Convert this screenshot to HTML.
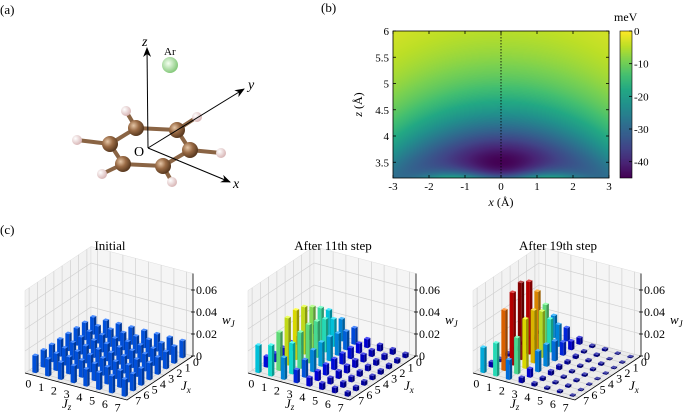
<!DOCTYPE html>
<html><head><meta charset="utf-8"><style>
html,body{margin:0;padding:0;background:#fff;}
body{width:685px;height:413px;position:relative;overflow:hidden;font-family:"Liberation Serif",serif;}
svg{position:absolute;left:0;top:0;}
svg text{font-family:"Liberation Serif",serif;}
canvas{position:absolute;}
</style></head><body>
<svg id="main" width="685" height="413">
 <g>
  <text x="0" y="14" font-size="13">(a)</text>
  <defs>
   <radialGradient id="gc" cx="35%" cy="35%" r="65%"><stop offset="0" stop-color="#e6c7a8"/><stop offset="0.5" stop-color="#9a6b45"/><stop offset="1" stop-color="#5a3a20"/></radialGradient>
   <radialGradient id="gh" cx="35%" cy="35%" r="65%"><stop offset="0" stop-color="#ffffff"/><stop offset="1" stop-color="#d9b8b8"/></radialGradient>
   <radialGradient id="ga" cx="40%" cy="40%" r="60%"><stop offset="0" stop-color="#f4fff0"/><stop offset="1" stop-color="#86c97c"/></radialGradient>
   <marker id="arr" markerWidth="10" markerHeight="8" refX="9" refY="4" orient="auto"><path d="M0,0 L10,4 L0,8 L3,4 z" fill="#000"/></marker>
  </defs>
  <g stroke="#8a6444" stroke-width="4">
   <line x1="136" y1="128" x2="177" y2="130"/><line x1="177" y1="130" x2="190" y2="150"/>
   <line x1="190" y1="150" x2="163" y2="166"/><line x1="163" y1="166" x2="123" y2="164"/>
   <line x1="123" y1="164" x2="110" y2="144"/><line x1="110" y1="144" x2="136" y2="128"/>
   <line x1="136" y1="128" x2="126" y2="111"/><line x1="177" y1="130" x2="197" y2="117"/>
   <line x1="190" y1="150" x2="221" y2="153"/><line x1="163" y1="166" x2="172" y2="182"/>
   <line x1="123" y1="164" x2="102" y2="174"/><line x1="110" y1="144" x2="77" y2="140"/>
  </g>
  <g fill="url(#gh)">
   <circle cx="126" cy="111" r="5"/><circle cx="197" cy="117" r="5"/><circle cx="221" cy="153" r="5"/>
   <circle cx="172" cy="182" r="5"/><circle cx="102" cy="174" r="5"/><circle cx="77" cy="140" r="5"/>
  </g>
  <g fill="url(#gc)">
   <circle cx="136" cy="128" r="8"/><circle cx="177" cy="130" r="8"/><circle cx="190" cy="150" r="8"/>
   <circle cx="163" cy="166" r="8"/><circle cx="123" cy="164" r="8"/><circle cx="110" cy="144" r="8"/>
  </g>
  <circle cx="170" cy="65" r="8" fill="url(#ga)"/>
  <text x="164" y="55" font-size="11">Ar</text>
  <g stroke="#000" stroke-width="1">
   <line x1="148" y1="148" x2="147" y2="48" marker-end="url(#arr)"/>
   <line x1="148" y1="148" x2="244" y2="89" marker-end="url(#arr)"/>
   <line x1="148" y1="148" x2="230" y2="182" marker-end="url(#arr)"/>
  </g>
  <text x="142" y="46" font-size="14" font-style="italic">z</text>
  <text x="248" y="89" font-size="14" font-style="italic">y</text>
  <text x="233" y="188" font-size="14" font-style="italic">x</text>
  <text x="134" y="156" font-size="14">O</text>
 </g>
 <g id="pb">
  <text x="321" y="12" font-size="13">(b)</text>
 </g>
 <g id="pc">
  <text x="0" y="234" font-size="13">(c)</text>
 </g>
</svg>
<canvas id="hm" width="216" height="147" style="left:393px;top:31px;width:216px;height:147px"></canvas>
<canvas id="cb" width="12" height="147" style="left:620px;top:31px;width:12px;height:147px"></canvas>
<svg id="over" width="685" height="413"></svg>
<script>
// ---------- panel (b) data ----------
const xTicks = [-3,-2,-1,0,1,2,3];
const zTicks = [3.5,4,4.5,5,5.5,6];
const cbTicks = [0,-10,-20,-30,-40];
const xRange = [-3,3];
const zRange = [3.2,6];
const eRange = [-45,0];
// ---------- panel (c) data ----------
const jzCats = [0,1,2,3,4,5,6,7];
const jxCats = [0,1,2,3,4,5,6,7];
const wTicks = [0,0.02,0.04,0.06];
const panelTitles = ["Initial","After 11th step","After 19th step"];
const wInitial = [
 [0.0156,0.0156,0.0156,0.0156,0.0156,0.0156,0.0156,0.0156],
 [0.0156,0.0156,0.0156,0.0156,0.0156,0.0156,0.0156,0.0156],
 [0.0156,0.0156,0.0156,0.0156,0.0156,0.0156,0.0156,0.0156],
 [0.0156,0.0156,0.0156,0.0156,0.0156,0.0156,0.0156,0.0156],
 [0.0156,0.0156,0.0156,0.0156,0.0156,0.0156,0.0156,0.0156],
 [0.0156,0.0156,0.0156,0.0156,0.0156,0.0156,0.0156,0.0156],
 [0.0156,0.0156,0.0156,0.0156,0.0156,0.0156,0.0156,0.0156],
 [0.0156,0.0156,0.0156,0.0156,0.0156,0.0156,0.0156,0.0156]];
const wStep11 = [
 [0.008,0.025,0.020,0.015,0.008,0.006,0.005,0.004],
 [0.008,0.032,0.025,0.017,0.009,0.006,0.005,0.004],
 [0.008,0.038,0.030,0.020,0.010,0.007,0.005,0.004],
 [0.008,0.043,0.033,0.022,0.010,0.007,0.005,0.004],
 [0.008,0.045,0.035,0.022,0.010,0.007,0.005,0.004],
 [0.008,0.043,0.033,0.020,0.010,0.007,0.005,0.004],
 [0.010,0.035,0.028,0.016,0.009,0.006,0.005,0.004],
 [0.025,0.028,0.020,0.012,0.008,0.006,0.005,0.004]];
const wStep19 = [
 [0.003,0.020,0.012,0.006,0.002,0.002,0.001,0.001],
 [0.003,0.035,0.020,0.008,0.002,0.002,0.001,0.001],
 [0.003,0.052,0.030,0.012,0.003,0.002,0.002,0.001],
 [0.003,0.066,0.042,0.018,0.003,0.002,0.002,0.001],
 [0.003,0.070,0.048,0.020,0.004,0.002,0.002,0.001],
 [0.003,0.066,0.045,0.019,0.004,0.002,0.002,0.001],
 [0.005,0.055,0.033,0.008,0.003,0.002,0.002,0.001],
 [0.023,0.030,0.018,0.005,0.003,0.002,0.002,0.001]];

const NS="http://www.w3.org/2000/svg";
function mk(parent,tag,attrs,text){const e=document.createElementNS(NS,tag);for(const k in attrs)e.setAttribute(k,attrs[k]);if(text!==undefined)e.textContent=text;parent.appendChild(e);return e;}

// ---------- viridis ----------
const vir=[[68,1,84],[72,36,117],[65,68,135],[53,95,141],[42,120,142],[33,145,140],[34,168,132],[68,191,112],[122,209,81],[189,223,38],[253,231,37]];
function viridis(t){t=Math.max(0,Math.min(1,t));const p=t*10,i=Math.min(9,Math.floor(p)),f=p-i;return vir[i].map((c,k)=>Math.round(c+(vir[i+1][k]-c)*f));}

// ---------- panel (b) ----------
const PX0=393,PX1=609,PY0=31,PY1=178;
const sx=x=>PX0+(x-xRange[0])/(xRange[1]-xRange[0])*(PX1-PX0);
const sz=z=>PY1-(z-zRange[0])/(zRange[1]-zRange[0])*(PY1-PY0);
const se=e=>PY1-(e-eRange[0])/(eRange[1]-eRange[0])*(PY1-PY0);
(function(){
 const atoms=[];
 for(let k=0;k<6;k++){const a=k*Math.PI/3;atoms.push([1.4*Math.cos(a),1.4*Math.sin(a),3.4,1.0]);atoms.push([2.48*Math.cos(a),2.48*Math.sin(a),2.9,0.6]);}
 function V(x,z){let s=0;for(const [ax,ay,sg,ep] of atoms){const r2=(x-ax)**2+ay*ay+z*z;const q=Math.pow(sg*sg/r2,3);s+=4*ep*(q*q-q);}return s;}
 const W=216,H=147;let mn=0;const vals=[];
 for(let j=0;j<H;j++){for(let i=0;i<W;i++){const x=xRange[0]+(i+0.5)/W*(xRange[1]-xRange[0]);const z=zRange[1]-(j+0.5)/H*(zRange[1]-zRange[0]);const v=V(x,z);vals.push(v);if(v<mn)mn=v;}}
 const ctx=document.getElementById('hm').getContext('2d');const img=ctx.createImageData(W,H);
 for(let n=0;n<vals.length;n++){const e=vals[n]/mn*(-45);const c=viridis((e-eRange[0])/(eRange[1]-eRange[0]));img.data[4*n]=c[0];img.data[4*n+1]=c[1];img.data[4*n+2]=c[2];img.data[4*n+3]=255;}
 ctx.putImageData(img,0,0);
 const cb=document.getElementById('cb').getContext('2d');
 for(let j=0;j<H;j++){const c=viridis(1-j/(H-1));cb.fillStyle=`rgb(${c})`;cb.fillRect(0,j,12,1);}
 const g=document.getElementById('over');
 mk(g,'rect',{x:PX0,y:PY0,width:PX1-PX0,height:PY1-PY0,fill:'none',stroke:'#000','stroke-width':0.8,});
 mk(g,'line',{x1:sx(0),y1:PY0,x2:sx(0),y2:PY1,stroke:'#000','stroke-width':0.8,'stroke-dasharray':'1.5,1.5',});
 xTicks.forEach(t=>{const X=sx(t);
  const l=mk(g,'line',{x1:X,y1:PY1,x2:X,y2:PY1-3,stroke:'#000','stroke-width':0.8});
  mk(g,'line',{x1:X,y1:PY0,x2:X,y2:PY0+3,stroke:'#000','stroke-width':0.8});
  const tx=mk(g,'text',{x:X,y:PY1+12,'font-size':11,'text-anchor':'middle'},String(t));});
 zTicks.forEach(t=>{const Y=sz(t);
  const l=mk(g,'line',{x1:PX0,y1:Y,x2:PX0+3,y2:Y,stroke:'#000','stroke-width':0.8});
  mk(g,'line',{x1:PX1,y1:Y,x2:PX1-3,y2:Y,stroke:'#000','stroke-width':0.8});
  const tx=mk(g,'text',{x:PX0-4,y:Y+4,'font-size':11,'text-anchor':'end'},String(t));});
 const xl=mk(g,'text',{x:(PX0+PX1)/2,y:PY1+28,'font-size':12,'text-anchor':'middle'});
 mk(xl,'tspan',{'font-style':'italic'},'x');mk(xl,'tspan',{},' (Å)');
 const zl=mk(g,'text',{x:0,y:0,'font-size':12,'text-anchor':'middle',transform:`translate(362,${(PY0+PY1)/2}) rotate(-90)`});
 mk(zl,'tspan',{'font-style':'italic'},'z');mk(zl,'tspan',{},' (Å)');
 mk(g,'rect',{x:620,y:PY0,width:12,height:PY1-PY0,fill:'none',stroke:'#000','stroke-width':0.6,});
 cbTicks.forEach(t=>{const Y=se(t);
  const l=mk(g,'line',{x1:629,y1:Y,x2:632,y2:Y,stroke:'#000','stroke-width':0.8});
  const tx=mk(g,'text',{x:634,y:Y+4,'font-size':11},String(t));});
 mk(g,'text',{x:614,y:21,'font-size':12,},'meV');
})();

// ---------- panel (c) ----------
const EZ=[12.75,3.375],EX=[-8.25,5.5],WS=1100,WMAX=0.075,VMAX=0.072;
const panelDX=[0,223,448];
const panelData=[wInitial,wStep11,wStep19];
function jet(t){t=Math.max(0,Math.min(1,t));const c=v=>Math.max(0,Math.min(1,1.5-Math.abs(v)));return [c(4*t-3),c(4*t-2),c(4*t-1)];}
function rgb(c,f){return `rgb(${c.map(v=>Math.round(Math.min(255,v*255*f))).join(',')})`;}
function rgbL(c,a){return `rgb(${c.map(v=>Math.round(255*(v+(1-v)*a))).join(',')})`;}
const pc=document.getElementById('pc');
panelData.forEach((data,p)=>{
 const dx=panelDX[p];
 const P=(jz,jx,w)=>[91+dx+(jz+0.5)*EZ[0]+(jx+0.5)*EX[0],329+(jz+0.5)*EZ[1]+(jx+0.5)*EX[1]-w*WS];
 const pts=a=>a.map(q=>q.join(',')).join(' ');
 const g=mk(pc,'g',{});
 const lo=-0.5,hi=7.5;
 mk(g,'polygon',{points:pts([P(lo,lo,0),P(hi,lo,0),P(hi,hi,0),P(lo,hi,0)]),fill:'#ebebeb',stroke:'#ccc','stroke-width':0.5,});
 mk(g,'polygon',{points:pts([P(lo,lo,0),P(lo,hi,0),P(lo,hi,WMAX),P(lo,lo,WMAX)]),fill:'#f2f2f2',stroke:'#ddd','stroke-width':0.5,});
 mk(g,'polygon',{points:pts([P(lo,lo,0),P(hi,lo,0),P(hi,lo,WMAX),P(lo,lo,WMAX)]),fill:'#f5f5f5',stroke:'#ddd','stroke-width':0.5,});
 const gs={stroke:'#d0d0d0','stroke-width':0.7};
 jzCats.forEach(c=>{const a=P(c,lo,0),b=P(c,hi,0),d=P(c,lo,WMAX);const l1=mk(g,'line',Object.assign({x1:a[0],y1:a[1],x2:b[0],y2:b[1]},gs));mk(g,'line',Object.assign({x1:a[0],y1:a[1],x2:d[0],y2:d[1]},gs));});
 jxCats.forEach(c=>{const a=P(lo,c,0),b=P(hi,c,0),d=P(lo,c,WMAX);const l1=mk(g,'line',Object.assign({x1:a[0],y1:a[1],x2:b[0],y2:b[1]},gs));mk(g,'line',Object.assign({x1:a[0],y1:a[1],x2:d[0],y2:d[1]},gs));});
 wTicks.forEach(w=>{const a=P(lo,hi,w),b=P(lo,lo,w),c=P(hi,lo,w);const l=mk(g,'polyline',Object.assign({points:pts([a,b,c]),fill:'none'},gs));});
 // bars
 const h=0.15;const order=[];
 jxCats.forEach((jx,r)=>jzCats.forEach((jz,c)=>order.push([jz,jx,data[r][c]])));
 order.sort((a,b)=>(a[0]+a[1])-(b[0]+b[1]));
 order.forEach(([jz,jx,w])=>{
  const col=jet(w/VMAX);
  const bg=mk(g,'g',{});
  mk(bg,'polygon',{points:pts([P(jz-h,jx+h,0),P(jz+h,jx+h,0),P(jz+h,jx+h,w),P(jz-h,jx+h,w)]),fill:rgb(col,0.85)});
  mk(bg,'polygon',{points:pts([P(jz+h,jx-h,0),P(jz+h,jx+h,0),P(jz+h,jx+h,w),P(jz+h,jx-h,w)]),fill:rgb(col,0.6)});
  mk(bg,'polygon',{points:pts([P(jz-h,jx-h,w),P(jz+h,jx-h,w),P(jz+h,jx+h,w),P(jz-h,jx+h,w)]),fill:rgbL(col,0.3)});
 });
 // w axis
 const a0=P(hi,lo,0),a1=P(hi,lo,WMAX);
 mk(g,'line',{x1:a0[0],y1:a0[1],x2:a1[0],y2:a1[1],stroke:'#000','stroke-width':0.8,});
 wTicks.forEach(w=>{const q=P(hi,lo,w);
  const l=mk(g,'line',{x1:q[0]-2,y1:q[1],x2:q[0]+2,y2:q[1],stroke:'#000','stroke-width':0.8});
  const tx=mk(g,'text',{x:q[0]+3,y:q[1]+4,'font-size':12},String(w));});
 const wl=mk(g,'text',{x:dx+222,y:324,'font-size':13,'font-style':'italic'});
 mk(wl,'tspan',{},'w');mk(wl,'tspan',{'font-size':9,dy:3},'J');
 // front axes
 const f0=P(lo,hi,0),f1=P(hi,hi,0),f2=P(hi,lo,0);
 mk(g,'polyline',{points:pts([f0,f1,f2]),fill:'none',stroke:'#000','stroke-width':0.8,});
 jzCats.forEach(c=>{const q=P(c,hi,0);const tx=mk(g,'text',{x:q[0]-3,y:q[1]+13,'font-size':12,'text-anchor':'middle'},String(c));});
 jxCats.forEach(c=>{const q=P(hi,c,0);const tx=mk(g,'text',{x:q[0]+7,y:q[1]+7,'font-size':12,'text-anchor':'middle'},String(c));});
 const jzl=mk(g,'text',{x:dx+62,y:408,'font-size':13,'font-style':'italic'});
 mk(jzl,'tspan',{},'J');mk(jzl,'tspan',{'font-size':9,dy:2},'z');
 const jxl=mk(g,'text',{x:dx+181,y:390,'font-size':13,'font-style':'italic'});
 mk(jxl,'tspan',{},'J');mk(jxl,'tspan',{'font-size':9,dy:3},'x');
 const t=mk(g,'text',{x:dx+110,y:250,'font-size':13,'text-anchor':'middle'},panelTitles[p]);
});
</script>
</body></html>
